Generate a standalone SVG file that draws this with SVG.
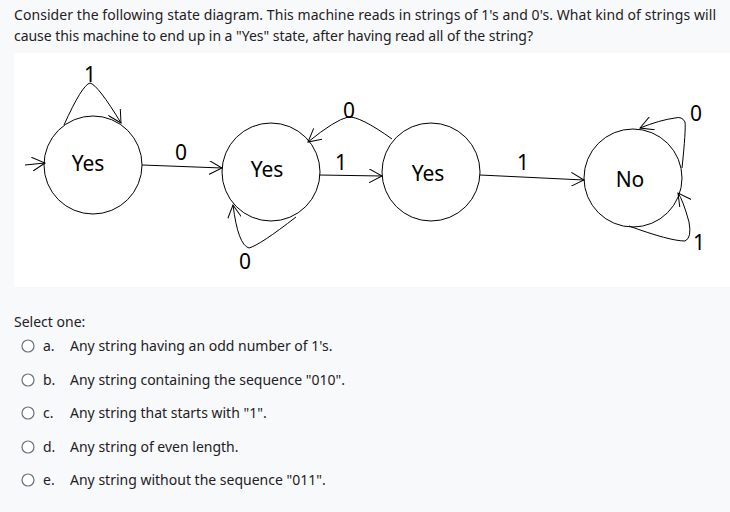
<svg xmlns="http://www.w3.org/2000/svg" width="730" height="512" viewBox="0 0 730 512">
<defs>
<style>
.t{font-family:"Noto Sans","Open Sans",sans-serif;font-size:14px;fill:#1d2125}
.d{font-family:"Noto Sans","Open Sans",sans-serif;font-size:21px;fill:#000}
.n{fill:none;stroke:#000;stroke-width:1}
.r{fill:#fff;stroke:#6a737b;stroke-width:1.2}
</style>
<marker id="a" viewBox="0 0 14 14" refX="13" refY="7" markerWidth="14" markerHeight="14" markerUnits="userSpaceOnUse" orient="auto"><path d="M0,0 L13,7 L0,14" fill="none" stroke="#000" stroke-width="1"/></marker>
</defs>
<rect width="730" height="512" fill="#f8f9fa"/>
<text class="t" x="14" y="20" textLength="702">Consider the following state diagram. This machine reads in strings of 1's and 0's. What kind of strings will</text>
<text class="t" x="14" y="41" textLength="519">cause this machine to end up in a "Yes" state, after having read all of the string?</text>
<rect x="14" y="53" width="716" height="234" fill="#fff"/>
<g id="s1"><circle class="n" cx="93" cy="165" r="49"/><text class="d" x="88" y="171" text-anchor="middle">Yes</text></g>
<g id="s2"><circle class="n" cx="271" cy="172" r="49"/><text class="d" x="267" y="177" text-anchor="middle">Yes</text></g>
<g id="s3"><circle class="n" cx="431" cy="172" r="49"/><text class="d" x="428" y="181" text-anchor="middle">Yes</text></g>
<g id="s4"><circle class="n" cx="633" cy="178" r="49"/><text class="d" x="630" y="187" text-anchor="middle">No</text></g>
<g id="edges">
<path class="n" d="M25,165 L45,163" marker-end="url(#a)"/>
<path class="n" d="M64,125 Q82,85 90,83 Q98,85 121,123" marker-end="url(#a)"/>
<path class="n" d="M142,165 L222,168" marker-end="url(#a)"/>
<path class="n" d="M319,175 L382,176" marker-end="url(#a)"/>
<path class="n" d="M392,139 Q360,116 348,117 Q335,120 308,142" marker-end="url(#a)"/>
<path class="n" d="M296,217 Q260,245 249,248 Q238,245 233,205" marker-end="url(#a)"/>
<path class="n" d="M480,175 L584,180" marker-end="url(#a)"/>
<path class="n" d="M682,168 Q686,130 685,122 Q682,116 675,118 Q660,120 640,128" marker-end="url(#a)"/>
<path class="n" d="M629,226 Q670,241 685,241 Q692,238 689,222 Q683,200 678,193" marker-end="url(#a)"/>
<text class="d" x="90" y="82" text-anchor="middle">1</text>
<text class="d" x="181" y="160" text-anchor="middle">0</text>
<text class="d" x="341" y="170" text-anchor="middle">1</text>
<text class="d" x="349" y="118" text-anchor="middle">0</text>
<text class="d" x="245" y="269" text-anchor="middle">0</text>
<text class="d" x="523" y="170" text-anchor="middle">1</text>
<text class="d" x="696" y="121" text-anchor="middle">0</text>
<text class="d" x="699" y="250" text-anchor="middle">1</text>
</g>
<text class="t" x="14" y="327">Select one:</text>
<g class="opts">
<circle class="r" cx="28" cy="346" r="6"/><text class="t" x="43" y="351">a.</text><text class="t" x="70" y="351">Any string having an odd number of 1's.</text>
<circle class="r" cx="28" cy="380" r="6"/><text class="t" x="43" y="385">b.</text><text class="t" x="70" y="385">Any string containing the sequence "010".</text>
<circle class="r" cx="28" cy="413" r="6"/><text class="t" x="43" y="418">c.</text><text class="t" x="70" y="418">Any string that starts with "1".</text>
<circle class="r" cx="28" cy="447" r="6"/><text class="t" x="43" y="452">d.</text><text class="t" x="70" y="452">Any string of even length.</text>
<circle class="r" cx="28" cy="480" r="6"/><text class="t" x="43" y="485">e.</text><text class="t" x="70" y="485">Any string without the sequence "011".</text>
</g>
</svg>
